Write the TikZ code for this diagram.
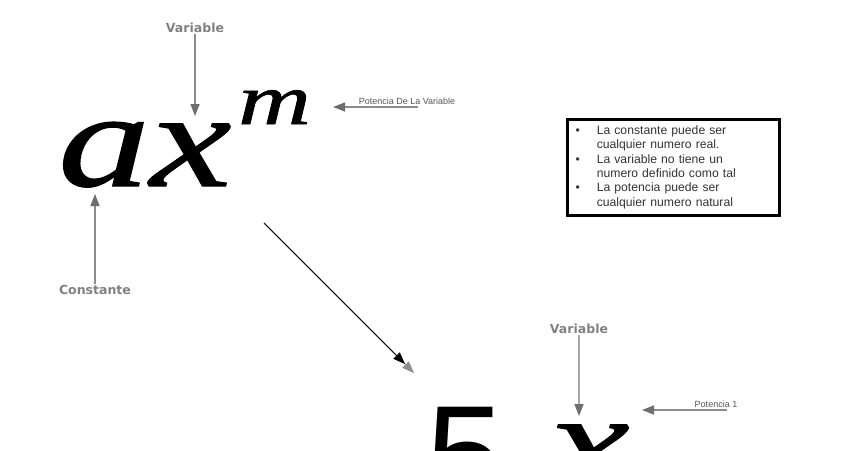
\documentclass[tikz,border=0pt]{standalone}
\usepackage{fontspec}
\usetikzlibrary{arrows.meta}
\newfontfamily\etiquetafont{DejaVu Sans}
\newfontfamily\notafont{Liberation Sans}
\newfontfamily\glifofont{Liberation Serif}[BoldItalicFont={Liberation Serif Italic},BoldItalicFeatures={FakeBold=0.8}]
\definecolor{textogris}{HTML}{808080}
\definecolor{lineagris}{HTML}{8C8C8C}
\definecolor{lineaclara}{HTML}{A8A8A8}
\definecolor{puntagris}{HTML}{6E6E6E}
\definecolor{notagris}{HTML}{555555}
\definecolor{cajatexto}{HTML}{333333}

\begin{document}
\begin{tikzpicture}[x=1pt,y=-1pt,
	etiqueta/.style={text=textogris,inner sep=1pt,font=\etiquetafont\bfseries\fontsize{12.5}{15}\selectfont},
	nota/.style={text=notagris,inner sep=1pt,font=\notafont\fontsize{9}{11}\selectfont},
	glifo/.style={inner sep=0pt,anchor=base west,font=\glifofont\bfseries\itshape\fontsize{136}{136}\selectfont},
	glifoexp/.style={inner sep=0pt,anchor=base west,font=\glifofont\bfseries\itshape\fontsize{72}{72}\selectfont},
	cifra/.style={inner sep=0pt,anchor=base west,font=\notafont\fontsize{140}{140}\selectfont},
	flecha/.style={draw=lineagris,line width=1.5pt,-{Triangle[length=12pt,width=9pt,color=puntagris]}},
	flechaclara/.style={flecha,draw=lineaclara},
	caja/.style={draw,line width=3pt,text width=196pt,inner xsep=8pt,minimum height=96pt,
		text=cajatexto,font=\notafont\fontsize{12.2}{14.4}\selectfont}]
\useasboundingbox (0,0) rectangle (857,450);

% expresion general
\node[glifo] (ax) at (58,186) {\scalebox{1.35}[1]{ax}};
\node[glifoexp] (m) at (238,124) {\scalebox{1.4}[1]{m}};

\node[etiqueta] (var1) at (195,28) {Variable};
\node[etiqueta] (const) at (95,290) {Constante};
\node[nota] (pot1) at (407,101) {Potencia De La Variable};

\coordinate (puntax) at (195,116);
\coordinate (puntaa) at (95,194);
\coordinate (colapot1) at (418,107);
\coordinate (puntam) at (333,107);
\draw[flecha] (var1) -- (puntax);
\draw[flecha] (const) -- (puntaa);
\draw[flecha] (colapot1) -- (puntam);

% notas
\node[caja] (notas) at (673.5,167.5) {%
	\begin{tabular}{@{}l@{\hspace{17pt}}l@{}}
	\textbullet & La constante puede ser\\
	 & cualquier numero real.\\
	\textbullet & La variable no tiene un\\
	 & numero definido como tal\\
	\textbullet & La potencia puede ser\\
	 & cualquier numero natural
	\end{tabular}};

% ejemplo
\coordinate (inicio) at (264,223);
\coordinate (fingris) at (414,373);
\coordinate (fin) at (405,364);
\draw[draw=lineagris,line width=1pt,-{Triangle[length=12pt,width=9pt,color=lineagris]}] (inicio) -- (fingris);
\draw[line width=1pt,-{Triangle[length=12pt,width=9pt]}] (inicio) -- (fin);

\node[cifra] (cinco) at (426,503) {5};
\node[glifo] (xb) at (548,487) {\scalebox{1.35}[1]{x}};

\node[etiqueta] (var2) at (579,329) {Variable};
\node[nota] (pot2) at (716,404) {Potencia 1};

\coordinate (puntaxb) at (579,416);
\coordinate (colapot2) at (727,410);
\coordinate (puntaexp) at (642,410);
\draw[flechaclara] (var2) -- (puntaxb);
\draw[flecha] (colapot2) -- (puntaexp);
\end{tikzpicture}
\end{document}
